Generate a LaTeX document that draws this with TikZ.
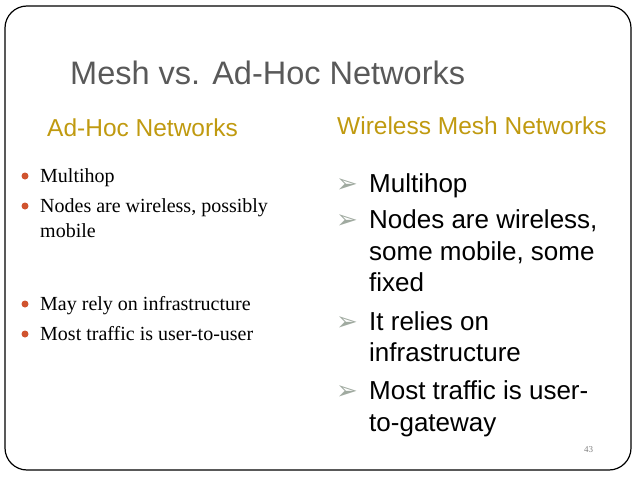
\documentclass[tikz,border=0pt]{standalone}
\usepackage{fontspec}
\setmainfont{Liberation Serif}
\newfontfamily\arial{Liberation Sans}
\newfontfamily\dejavu{DejaVu Sans}
\definecolor{titlegray}{HTML}{595959}
\definecolor{gold}{HTML}{C09A10}
\definecolor{dotred}{HTML}{D0532E}
\definecolor{arrowgray}{HTML}{A0AAA0}
\begin{document}
\begin{tikzpicture}[x=1pt,y=-1pt,
  lt/.style={anchor=base west,inner sep=0,font=\fontsize{20}{24}\selectfont},
  rt/.style={anchor=base west,inner sep=0,font=\arial\fontsize{26}{30}\selectfont},
  dot/.style={circle,fill=dotred,inner sep=0,minimum size=7pt},
  arr/.style={anchor=base west,inner sep=0,text=arrowgray,font=\dejavu\fontsize{26}{30}\selectfont}]
\useasboundingbox (0,0) rectangle (638,479);
\draw[line width=1.2pt,rounded corners=22pt] (5,6) rectangle (631,470);
\node[anchor=base west,inner sep=0,text=titlegray,font=\arial\fontsize{32.5}{38}\selectfont] (title) at (70,84) {Mesh vs. Ad-Hoc Networks};
\node[anchor=base west,inner sep=0,text=gold,font=\arial\fontsize{24.5}{28}\selectfont] (lh) at (47,136) {Ad-Hoc Networks};
\node[anchor=base west,inner sep=0,text=gold,font=\arial\fontsize{24.5}{28}\selectfont] (rh) at (337,134) {Wireless Mesh Networks};
% left
\node[dot] (d1) at (25,176) {};
\node[lt] (l1) at (40,182) {Multihop};
\node[dot] (d2) at (25,206) {};
\node[lt] (l2) at (40,212) {Nodes are wireless, possibly};
\node[lt] (l2b) at (40,237) {mobile};
\node[dot] (d3) at (25,304) {};
\node[lt] (l3) at (40,310) {May rely on infrastructure};
\node[dot] (d4) at (25,334) {};
\node[lt] (l4) at (40,340) {Most traffic is user-to-user};
% right
\node[arr] (a1) at (336,192) {➢};
\node[rt] (r1) at (369,192) {Multihop};
\node[arr] (a2) at (336,228) {➢};
\node[rt] (r2) at (369,228) {Nodes are wireless,};
\node[rt] (r2b) at (369,260) {some mobile, some};
\node[rt] (r2c) at (369,291) {fixed};
\node[arr] (a3) at (336,330) {➢};
\node[rt] (r3) at (369,330) {It relies on};
\node[rt] (r3b) at (369,361) {infrastructure};
\node[arr] (a4) at (336,399) {➢};
\node[rt] (r4) at (369,399) {Most traffic is user-};
\node[rt] (r4b) at (369,431) {to-gateway};
\node[anchor=base west,inner sep=0,text=gray,font=\fontsize{9}{10}\selectfont] (pg) at (584,452) {43};
\end{tikzpicture}
\end{document}
